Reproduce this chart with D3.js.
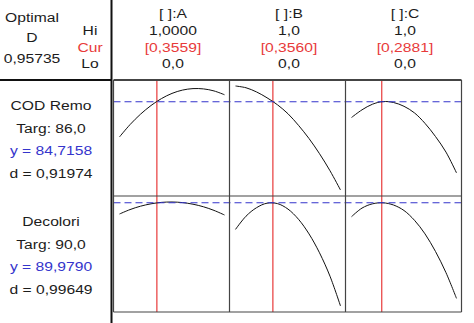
<!DOCTYPE html>
<html>
<head>
<meta charset="utf-8">
<script src="https://cdn.jsdelivr.net/npm/d3@7"></script>
<style>
  html, body { margin: 0; padding: 0; background: #fff; }
  svg { display: block; }
  text { font-family: "Liberation Sans", Arial, sans-serif; font-size: 13.5px; }
</style>
</head>
<body>
<script>
// Response optimizer: factor levels, responses and predicted profiles
const factors = ["A", "B", "C"];
const hiLevels = ["1,0000", "1,0", "1,0"];
const curLevels = [0.3559, 0.3560, 0.2881];
const loLevels = ["0,0", "0,0", "0,0"];

const responses = ["COD Remo", "Decolori"];
const targets = [86.0, 90.0];
const predicted = [84.7158, 89.9790];
const desirability = [0.91974, 0.99649];
const compositeD = 0.95735;

// factor level grid (coded units) at which each profile is evaluated
const levelGrid = [0, 0.1, 0.2, 0.3, 0.4, 0.5, 0.6, 0.7, 0.8, 0.9, 1.0];

// COD removal profile versus each factor
const codA = [79.72, 81.46, 82.94, 84.17, 85.16, 85.89, 86.36, 86.57, 86.53, 86.24, 85.70];
const codB = [86.94, 86.69, 86.10, 85.27, 84.27, 83.00, 81.36, 79.49, 77.34, 74.92, 72.19];
const codC = [82.47, 83.56, 84.36, 84.73, 84.60, 84.06, 83.12, 81.64, 79.77, 77.56, 74.62];
// Decolorization profile versus each factor
const decA = [86.75, 88.01, 88.98, 89.66, 90.07, 90.18, 90.01, 89.55, 88.81, 87.78, 86.47];
const decB = [82.35, 86.12, 88.55, 89.84, 89.72, 88.15, 85.24, 81.07, 75.67, 68.98, 60.47];
const decC = [85.98, 88.44, 89.66, 89.95, 89.32, 87.75, 84.95, 81.07, 76.04, 69.98, 62.64];

const profiles = [[codA, codB, codC], [decA, decB, decC]];

const W = 474, H = 323;
const sepX = 111.5, headerH = 80;
const gridLeft = 113.5, colW = 116, rowH = 116;
const sx = 1.16; // horizontal stretch of the label font
const RED = "#e83a3a", BLUE = "#3535cc", INK = "#1c1c1c";

const comma = (v, p) => d3.format("." + p + "f")(v).replace(".", ",");

const svg = d3.select("body").append("svg").attr("width", W).attr("height", H);

function label(x, y, str, color) {
  svg.append("text")
    .attr("transform", `translate(${x},${y}) scale(${sx},1)`)
    .attr("text-anchor", "middle")
    .attr("fill", color || INK)
    .text(str);
}

// column and row bands
const colX = d3.scaleBand().domain(factors).range([gridLeft, gridLeft + colW * factors.length]);
const rowY = d3.scaleBand().domain(responses).range([headerH, headerH + rowH * responses.length]);

// header: composite desirability
label(32, 22, "Optimal");
label(32, 42, "D");
label(32, 63, comma(compositeD, 5));
label(90, 35, "Hi");
label(90, 51.5, "Cur", RED);
label(90, 68, "Lo");

factors.forEach((f, i) => {
  const cx = colX(f) + colX.bandwidth() / 2 + 1.5;
  label(cx, 18, "[ ]:" + f);
  label(cx, 35, hiLevels[i]);
  label(cx, 51.5, "[" + comma(curLevels[i], 4) + "]", RED);
  label(cx, 68, loLevels[i]);
});

// response labels
responses.forEach((r, j) => {
  const cy = rowY(r) + rowY.bandwidth() / 2 + 6;
  const step = 22.6;
  label(51, cy - 1.5 * step, r);
  label(51, cy - 0.5 * step, "Targ: " + comma(targets[j], 1));
  label(51, cy + 0.5 * step, "y = " + comma(predicted[j], 4), BLUE);
  label(51, cy + 1.5 * step, "d = " + comma(desirability[j], 5));
});

// profile panels
const line = d3.line().curve(d3.curveCatmullRom.alpha(0.5));

responses.forEach((r, j) => {
  const top = rowY(r), bottom = top + rowY.bandwidth();
  const all = profiles[j].flat();
  const y = d3.scaleLinear().domain(d3.extent(all)).range([bottom - 6, top + 6]);

  factors.forEach((f, i) => {
    const left = colX(f), right = left + colX.bandwidth();
    const x = d3.scaleLinear().domain([0, 1]).range([left + 6, right - 5]);

    // current factor setting
    svg.append("line")
      .attr("x1", x(curLevels[i])).attr("x2", x(curLevels[i]))
      .attr("y1", top).attr("y2", bottom)
      .attr("stroke", RED).attr("stroke-width", 1.2);

    // predicted response profile
    svg.append("path")
      .attr("d", line(levelGrid.map((t, k) => [x(t), y(profiles[j][i][k])])))
      .attr("fill", "none").attr("stroke", "#111").attr("stroke-width", 1);
  });

  // predicted response at the optimum
  svg.append("line")
    .attr("x1", gridLeft).attr("x2", gridLeft + colW * factors.length)
    .attr("y1", y(predicted[j])).attr("y2", y(predicted[j]))
    .attr("stroke", BLUE).attr("stroke-width", 1.1)
    .attr("stroke-dasharray", "7,4");
});

// panel grid
const gRight = gridLeft + colW * factors.length;
const gBottom = headerH + rowH * responses.length;
factors.forEach(f => {
  const xl = colX(f);
  svg.append("line").attr("x1", xl).attr("x2", xl).attr("y1", headerH).attr("y2", gBottom)
    .attr("stroke", "#444").attr("stroke-width", 1.2);
});
svg.append("line").attr("x1", gRight).attr("x2", gRight).attr("y1", headerH).attr("y2", gBottom)
  .attr("stroke", "#444").attr("stroke-width", 1.2);
responses.forEach(r => {
  svg.append("line").attr("x1", gridLeft).attr("x2", gRight).attr("y1", rowY(r)).attr("y2", rowY(r))
    .attr("stroke", "#444").attr("stroke-width", rowY(r) === headerH ? 2 : 1.2);
});
svg.append("line").attr("x1", gridLeft).attr("x2", gRight).attr("y1", gBottom).attr("y2", gBottom)
  .attr("stroke", "#444").attr("stroke-width", 1.2);

// header / label separators
svg.append("line").attr("x1", sepX).attr("x2", sepX).attr("y1", 0).attr("y2", H)
  .attr("stroke", "#111").attr("stroke-width", 2);
svg.append("line").attr("x1", 0).attr("x2", sepX).attr("y1", headerH).attr("y2", headerH)
  .attr("stroke", "#111").attr("stroke-width", 2);
</script>
</body>
</html>
